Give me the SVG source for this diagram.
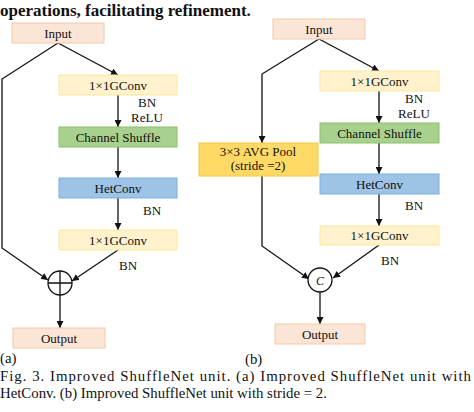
<svg xmlns="http://www.w3.org/2000/svg" width="474" height="412" viewBox="0 0 474 412" font-family="Liberation Serif, Times New Roman, serif">
<defs>
<style>
text{font-family:'Liberation Serif','Times New Roman',serif;fill:#111}
.lbl{font-size:13px;text-anchor:middle}
.cap{font-size:14.8px}
.io{fill:#FBE5D6;stroke:#F4C7A8;stroke-width:1}
.gc{fill:#FFF2CC;stroke:#FFE699;stroke-width:1}
.cs{fill:#A9D18E;stroke:#8CBF6A;stroke-width:1}
.hc{fill:#9DC3E6;stroke:#7BAFE0;stroke-width:1}
.ap{fill:#FFD966;stroke:#F5C842;stroke-width:1}
.ln{fill:none;stroke:#111;stroke-width:1.3}
</style>
<marker id="ah" viewBox="0 0 10 10" refX="10" refY="5" markerWidth="7" markerHeight="7" markerUnits="userSpaceOnUse" orient="auto">
<path d="M0,0 L10,5 L0,10 z" fill="#111"/>
</marker>
</defs>
<rect width="474" height="412" fill="#fff"/>
<text x="0" y="15.5" style="font-size:17px;font-weight:bold">operations, facilitating refinement.</text>

<g id="connectors">
<path class="ln" d="M58,43 L2,79 L2,248 L48,280" marker-end="url(#ah)"/>
<path class="ln" d="M58,43 L118,75" marker-end="url(#ah)"/>
<path class="ln" d="M118,95 L118,127" marker-end="url(#ah)"/>
<path class="ln" d="M118,147 L118,178" marker-end="url(#ah)"/>
<path class="ln" d="M118,198 L118,230" marker-end="url(#ah)"/>
<path class="ln" d="M118,250 L72,281" marker-end="url(#ah)"/>
<path class="ln" d="M60,295 L60,328" marker-end="url(#ah)"/>

<path class="ln" d="M319,39 L262,74 L262,143" marker-end="url(#ah)"/>
<path class="ln" d="M319,39 L379,71" marker-end="url(#ah)"/>
<path class="ln" d="M379,91 L379,123" marker-end="url(#ah)"/>
<path class="ln" d="M379,143 L379,174" marker-end="url(#ah)"/>
<path class="ln" d="M379,194 L379,226" marker-end="url(#ah)"/>
<path class="ln" d="M262,176 L262,246 L309,279" marker-end="url(#ah)"/>
<path class="ln" d="M379,245 L333,278" marker-end="url(#ah)"/>
<path class="ln" d="M320,292 L320,324" marker-end="url(#ah)"/>
</g>

<g id="a-input"><rect class="io" x="12" y="23" width="92" height="20"/><text class="lbl" x="58" y="37.5">Input</text></g>
<g id="a-gconv1"><rect class="gc" x="59" y="75" width="118" height="20"/><text class="lbl" x="118" y="89.5">1×1GConv</text></g>
<g id="a-bnrelu"><text class="lbl" x="147" y="107">BN</text><text class="lbl" x="147" y="122">ReLU</text></g>
<g id="a-shuffle"><rect class="cs" x="59" y="127" width="118" height="20"/><text class="lbl" x="118" y="141.5">Channel Shuffle</text></g>
<g id="a-hetconv"><rect class="hc" x="59" y="178" width="118" height="20"/><text class="lbl" x="118" y="192.5">HetConv</text></g>
<g id="a-bn2"><text class="lbl" x="152" y="215">BN</text></g>
<g id="a-gconv2"><rect class="gc" x="59" y="230" width="118" height="20"/><text class="lbl" x="118" y="244.5">1×1GConv</text></g>
<g id="a-bn3"><text class="lbl" x="128" y="270">BN</text></g>
<g id="a-add"><circle cx="60" cy="283" r="12" fill="#fff" stroke="#111" stroke-width="1.3"/><path class="ln" d="M48,283 H72 M60,271 V295"/></g>
<g id="a-output"><rect class="io" x="13" y="328" width="92" height="20"/><text class="lbl" x="59" y="342.5">Output</text></g>

<g id="b-input"><rect class="io" x="273" y="19" width="92" height="20"/><text class="lbl" x="319" y="33.5">Input</text></g>
<g id="b-gconv1"><rect class="gc" x="320" y="71" width="119" height="20"/><text class="lbl" x="379.5" y="85.5">1×1GConv</text></g>
<g id="b-bnrelu"><text class="lbl" x="414" y="103">BN</text><text class="lbl" x="414" y="118">ReLU</text></g>
<g id="b-shuffle"><rect class="cs" x="320" y="123" width="119" height="20"/><text class="lbl" x="379.5" y="137.5">Channel Shuffle</text></g>
<g id="b-avgpool"><rect class="ap" x="199" y="143" width="119" height="33"/><text class="lbl" x="258" y="155.5">3×3 AVG Pool</text><text class="lbl" x="258" y="170">(stride =2)</text></g>
<g id="b-hetconv"><rect class="hc" x="320" y="174" width="119" height="20"/><text class="lbl" x="379.5" y="188.5">HetConv</text></g>
<g id="b-bn2"><text class="lbl" x="414" y="210">BN</text></g>
<g id="b-gconv2"><rect class="gc" x="320" y="226" width="119" height="19"/><text class="lbl" x="379.5" y="240">1×1GConv</text></g>
<g id="b-bn3"><text class="lbl" x="390" y="265">BN</text></g>
<g id="b-concat"><circle cx="320" cy="280" r="12" fill="#fff" stroke="#111" stroke-width="1.3"/><text x="320" y="284.5" style="font-size:12px;font-style:italic;text-anchor:middle">C</text></g>
<g id="b-output"><rect class="io" x="275" y="324" width="90" height="20"/><text class="lbl" x="320" y="338.5">Output</text></g>

<text class="cap" x="0" y="363">(a)</text>
<text class="cap" x="245" y="364">(b)</text>
<text class="cap" x="0" y="381" textLength="471" lengthAdjust="spacing">Fig. 3. Improved ShuffleNet unit. (a) Improved ShuffleNet unit with</text>
<text class="cap" x="0" y="398">HetConv. (b) Improved ShuffleNet unit with stride = 2.</text>
</svg>
